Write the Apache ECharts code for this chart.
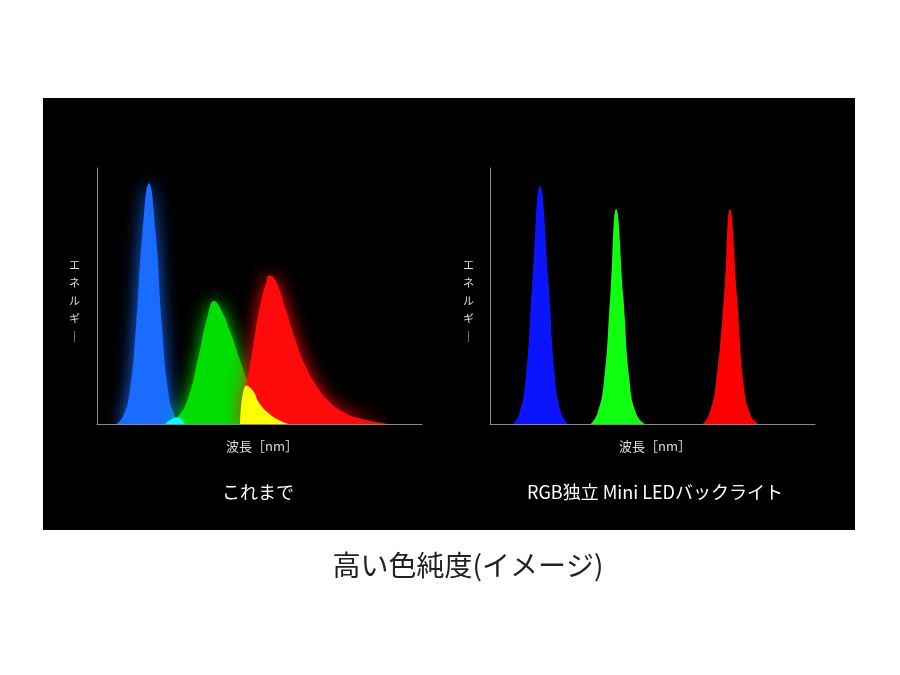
<!DOCTYPE html>
<html><head><meta charset="utf-8">
<script src="https://cdn.jsdelivr.net/npm/echarts@6/dist/echarts.min.js"></script>
<style>html,body{margin:0;background:#fff}#c{width:900px;height:675px}</style></head>
<body><div id="c"></div>
<script>
// Left chart (conventional) spectra: [wavelength position 0-100, energy 0-100]
const leftBlue = [[6,0],[8,3],[10,12],[12,38],[14,75],[16,94],[18,75],[20,38],[22,12],[24,3],[26,0]];
const leftGreen = [[22,0],[25,3],[28,10],[31,25],[34,42],[36,48],[38,45],[41,36],[44,25],[47,15],[50,8],[53,4],[56,1.5],[59,0]];
const leftRed = [[44,0],[46,15],[48,30],[50,45],[52,55],[53,58],[55,56],[58,45],[61,33],[64,23],[68,14],[72,8],[76,4.5],[80,2.5],[85,1],[90,0]];
const leftYellow = [[44,0],[46,15],[48,13],[50,8],[53,4],[56,1.5],[59,0]];
const leftCyan = [[21,0],[23,2],[25,2.5],[27,0]];
// Right chart (RGB Mini LED) spectra
const rightBlue = [[7,0],[9,4],[11,18],[13,55],[15.4,93],[18,55],[20,18],[22,4],[24,0]];
const rightGreen = [[31,0],[33,4],[35,16],[37,50],[38.8,84],[41,50],[43,16],[45,4],[47.5,0]];
const rightRed = [[65.5,0],[67.5,4],[69.5,16],[72,50],[73.8,84],[76,50],[78,16],[80,4],[82.5,0]];

const chart = echarts.init(document.getElementById('c'));
const ax = {type:'value',min:0,max:100,axisLabel:{show:false},axisTick:{show:false},splitLine:{show:false},axisLine:{show:true,lineStyle:{color:'#8a8a8a',width:1}}};
function area(data,color,idx,glow,z){
  return {type:'line',data:data,xAxisIndex:idx,yAxisIndex:idx,smooth:0.5,showSymbol:false,silent:true,z:z,
    lineStyle:{width:0},areaStyle:{color:color,opacity:1,shadowBlur:glow?18:0,shadowColor:color}};
}
const jp = '"Noto Sans CJK JP", sans-serif';
chart.setOption({
  backgroundColor:'#fff',
  animation:false,
  grid:[{left:97,top:168,width:325,height:256},{left:490,top:168,width:325,height:256}],
  xAxis:[Object.assign({gridIndex:0},ax),Object.assign({gridIndex:1},ax)],
  yAxis:[Object.assign({gridIndex:0},ax),Object.assign({gridIndex:1},ax)],
  graphic:[
    {type:'rect',z:-10,shape:{x:43,y:98,width:812,height:432},style:{fill:'#000'}},
    {type:'text',left:69,top:256,z:10,style:{text:'エ\nネ\nル\nギ\n｜',fill:'#ddd',font:'11px '+jp,lineHeight:18,align:'center'}},
    {type:'text',left:463,top:256,z:10,style:{text:'エ\nネ\nル\nギ\n｜',fill:'#ddd',font:'11px '+jp,lineHeight:18,align:'center'}},
    {type:'text',x:262,y:446,z:10,style:{text:'波長［nm］',fill:'#ddd',font:'13px '+jp,align:'center',verticalAlign:'middle'}},
    {type:'text',x:655,y:446,z:10,style:{text:'波長［nm］',fill:'#ddd',font:'13px '+jp,align:'center',verticalAlign:'middle'}},
    {type:'text',x:258,y:492,z:10,style:{text:'これまで',fill:'#fff',font:'18px '+jp,align:'center',verticalAlign:'middle'}},
    {type:'text',x:655,y:492,z:10,style:{text:'RGB独立 Mini LEDバックライト',fill:'#fff',font:'18px '+jp,align:'center',verticalAlign:'middle'}},
    {type:'text',x:468,y:565,z:10,style:{text:'高い色純度(イメージ)',fill:'#222',font:'28px '+jp,align:'center',verticalAlign:'middle'}}
  ],
  series:[
    area(leftBlue,'#1a6bff',0,true,2),
    area(leftGreen,'#00dd00',0,true,3),
    area(leftRed,'#ff0a0a',0,true,4),
    area(leftYellow,'#ffff00',0,false,5),
    area(leftCyan,'#00ffff',0,false,5),
    area(rightBlue,'#0a14ff',1,false,2),
    area(rightGreen,'#10ff10',1,false,2),
    area(rightRed,'#ff0000',1,false,2)
  ]
});
</script></body></html>
